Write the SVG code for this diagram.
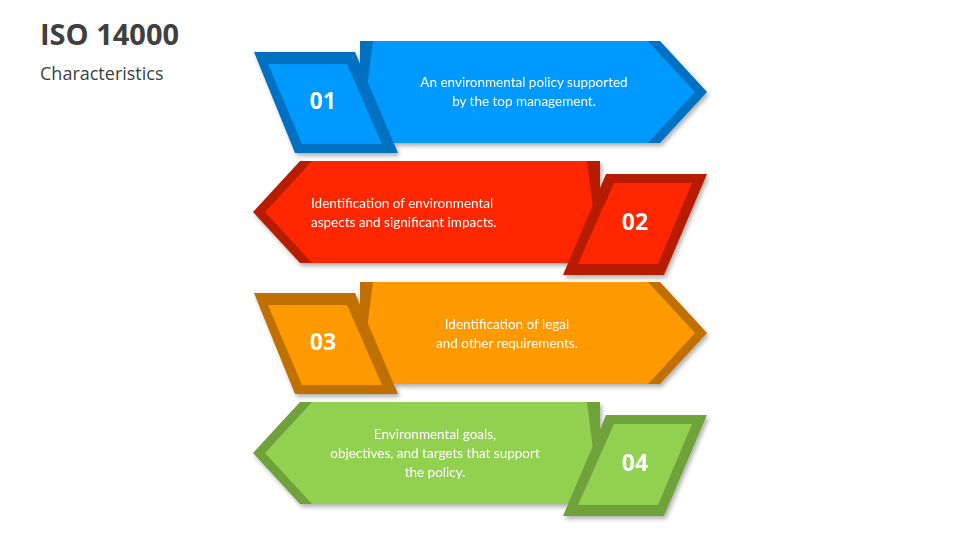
<svg xmlns="http://www.w3.org/2000/svg" width="960" height="540" viewBox="0 0 960 540">
<style>
.t{font-family:Lato,"Open Sans",sans-serif;fill:#fff;font-size:13.5px}
.n{font-family:"Open Sans",Lato,sans-serif;fill:#fff;font-size:23px;font-weight:bold;text-anchor:middle}
.c{text-anchor:middle}
</style>
<defs><filter id="sh" x="-10%" y="-10%" width="120%" height="130%"><feDropShadow dx="2" dy="3" stdDeviation="2" flood-opacity="0.3"/></filter></defs>
<rect width="960" height="540" fill="#fff"/>
<text x="40" y="45" font-family="Open Sans,sans-serif" font-size="29" font-weight="bold" fill="#404040">ISO 14000</text>
<text x="40" y="80" font-family="Open Sans,sans-serif" font-size="18" fill="#404040">Characteristics</text>
<g id="row1" filter="url(#sh)">
<polygon points="360,41 660,41 707,92 660,143 360,143" fill="#0070C0"/>
<polygon points="373,41 648,41 695,92 648,143 360,143" fill="#0099FF"/>
<polygon points="254,52 355,52 398,153 295,153" fill="#0070C0"/>
<polygon points="268,64 347,64 382,144 302,144" fill="#0099FF"/>
<text class="n" x="323" y="109">01</text>
<text class="t c" x="524" y="87">An environmental policy supported</text>
<text class="t c" x="524" y="106">by the top management.</text>
</g>
<g id="row2" filter="url(#sh)">
<polygon points="600,161 300,161 253,212 300,263 600,263" fill="#B81C00"/>
<polygon points="587,161 312,161 265,212 312,263 600,263" fill="#FF2600"/>
<polygon points="606,174 707,174 664,275 563,275" fill="#B81C00"/>
<polygon points="614,183 692,183 658,264 578,264" fill="#FF2600"/>
<text class="n" x="635" y="230">02</text>
<text class="t" x="311" y="208">Identification of environmental</text>
<text class="t" x="311" y="227">aspects and significant impacts.</text>
</g>
<g id="row3" filter="url(#sh)">
<polygon points="360,282 660,282 707,333 660,384 360,384" fill="#C07000"/>
<polygon points="373,282 648,282 695,333 648,384 360,384" fill="#FF9900"/>
<polygon points="254,293 355,293 398,394 295,394" fill="#C07000"/>
<polygon points="268,305 347,305 382,385 302,385" fill="#FF9900"/>
<text class="n" x="323" y="350">03</text>
<text class="t c" x="507" y="329">Identification of legal</text>
<text class="t c" x="507" y="348">and other requirements.</text>
</g>
<g id="row4" filter="url(#sh)">
<polygon points="600,402 300,402 253,453 300,504 600,504" fill="#6FA23A"/>
<polygon points="587,402 312,402 265,453 312,504 600,504" fill="#92D050"/>
<polygon points="606,415 707,415 664,516 563,516" fill="#6FA23A"/>
<polygon points="614,424 692,424 658,505 578,505" fill="#92D050"/>
<text class="n" x="635" y="471">04</text>
<text class="t c" x="435" y="439">Environmental goals,</text>
<text class="t c" x="435" y="458">objectives, and targets that support</text>
<text class="t c" x="435" y="477">the policy.</text>
</g>
<g id="connectors"/>
</svg>
